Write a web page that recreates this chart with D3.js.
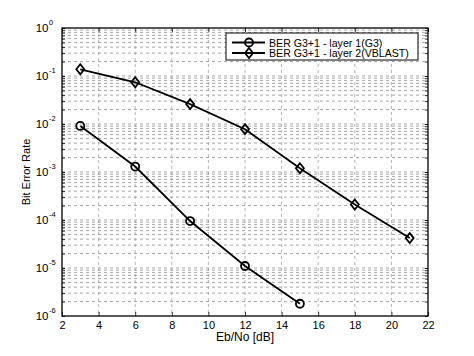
<!DOCTYPE html>
<html><head><meta charset="utf-8">
<script src="https://cdn.jsdelivr.net/npm/d3@7"></script>
<style>body{margin:0;background:#fff;} text{font-family:"Liberation Sans",Arial,sans-serif;}</style>
</head><body><svg id="c" width="474" height="356"></svg>
<script>
const xValues1 = [3, 6, 9, 12, 15];
const berLayer1 = [0.0091, 0.0013, 0.000095, 0.000011, 0.0000018];
const xValues2 = [3, 6, 9, 12, 15, 18, 21];
const berLayer2 = [0.138, 0.074, 0.026, 0.0078, 0.0012, 0.00021, 0.000042];
const xTicks = [2, 4, 6, 8, 10, 12, 14, 16, 18, 20, 22];
const yExponents = [0, -1, -2, -3, -4, -5, -6];
const seriesNames = ["BER G3+1 - layer 1(G3)", "BER G3+1 - layer 2(VBLAST)"];

const svg = d3.select("#c");
const L = 62, R = 428, T = 28, B = 316;
const x = d3.scaleLinear().domain([2, 22]).range([L, R]);
const y = d3.scaleLog().domain([1e-6, 1]).range([B, T]);

// grid
const g = svg.append("g");
xTicks.slice(1, -1).forEach(v => g.append("line").attr("x1", x(v)).attr("x2", x(v)).attr("y1", T).attr("y2", B)
  .attr("stroke", "#a0a0a0").attr("stroke-width", 0.8).attr("stroke-dasharray", "3,3"));
const yGrid = [];
for (let e = -6; e < 0; e++) for (let m = 1; m <= 9; m++) { if (!(e === -6 && m === 1)) yGrid.push(m * Math.pow(10, e)); }
yGrid.forEach(v => g.append("line").attr("x1", L).attr("x2", R).attr("y1", y(v)).attr("y2", y(v))
  .attr("stroke", "#909090").attr("stroke-width", 0.8).attr("stroke-dasharray", "3,3"));

// axes
const xAxB = d3.axisBottom(x).tickValues(xTicks).tickSize(-4).tickSizeOuter(0).tickFormat(d3.format("d"));
const gx = svg.append("g").attr("transform", `translate(0,${B})`).call(xAxB);
gx.selectAll("text").attr("y", 13).attr("dy", 0).attr("font-size", 11).attr("font-family", "Liberation Sans, Arial, sans-serif");
const xAxT = d3.axisTop(x).tickValues(xTicks).tickSize(-4).tickSizeOuter(0).tickFormat("");
svg.append("g").attr("transform", `translate(0,${T})`).call(xAxT);
const yMajors = yExponents.map(e => Math.pow(10, e));
const yAxL = d3.axisLeft(y).tickValues(yGrid.concat(yMajors)).tickSize(-3).tickSizeOuter(0).tickFormat("");
svg.append("g").attr("transform", `translate(${L},0)`).call(yAxL);
const yAxR = d3.axisRight(y).tickValues(yGrid.concat(yMajors)).tickSize(-3).tickSizeOuter(0).tickFormat("");
svg.append("g").attr("transform", `translate(${R},0)`).call(yAxR);
svg.selectAll(".domain").remove();
svg.selectAll(".tick line").attr("stroke", "#000").attr("stroke-width", 0.8);
svg.append("rect").attr("x", L).attr("y", T).attr("width", R - L).attr("height", B - T)
  .attr("fill", "none").attr("stroke", "#000").attr("stroke-width", 1.3);

// y tick labels
yExponents.forEach(e => {
  svg.append("text").attr("x", 48.5).attr("y", y(Math.pow(10, e)) + 4).attr("text-anchor", "end").attr("font-size", 11.5).text("10");
  svg.append("text").attr("x", 49).attr("y", y(Math.pow(10, e)) - 3).attr("font-size", 7.5).text(String(e));
});

// labels
svg.append("text").attr("x", (L + R) / 2).attr("y", 341).attr("text-anchor", "middle").attr("font-size", 12).text("Eb/No [dB]");
svg.append("text").attr("transform", `translate(30,${(T + B) / 2}) rotate(-90)`).attr("text-anchor", "middle").attr("font-size", 11).text("Bit Error Rate");

// lines
const line = d3.line().x(d => x(d[0])).y(d => y(d[1]));
const d1 = xValues1.map((v, i) => [v, berLayer1[i]]);
const d2 = xValues2.map((v, i) => [v, berLayer2[i]]);
[d1, d2].forEach(d => svg.append("path").datum(d).attr("d", line).attr("fill", "none").attr("stroke", "#000").attr("stroke-width", 1.8));
function circ(cx, cy) { svg.append("circle").attr("cx", cx).attr("cy", cy).attr("r", 4).attr("fill", "none").attr("stroke", "#000").attr("stroke-width", 1.8); }
function diam(cx, cy) { svg.append("path").attr("d", `M${cx},${cy - 5}L${cx + 4},${cy}L${cx},${cy + 5}L${cx - 4},${cy}Z`).attr("fill", "none").attr("stroke", "#000").attr("stroke-width", 1.8); }
d1.forEach(d => circ(x(d[0]), y(d[1])));
d2.forEach(d => diam(x(d[0]), y(d[1])));

// legend
svg.append("rect").attr("x", 226).attr("y", 33).attr("width", 192).attr("height", 27).attr("fill", "#fff").attr("stroke", "#000").attr("stroke-width", 1);
[0, 1].forEach(i => {
  const yy = 42.5 + i * 10.5;
  svg.append("line").attr("x1", 232).attr("x2", 265).attr("y1", yy).attr("y2", yy).attr("stroke", "#000").attr("stroke-width", 1.8);
  if (i === 0) circ(249, yy); else diam(249, yy);
  svg.append("text").attr("x", 269).attr("y", yy + 4).attr("font-size", 10.6).text(seriesNames[i]);
});
</script></body></html>
